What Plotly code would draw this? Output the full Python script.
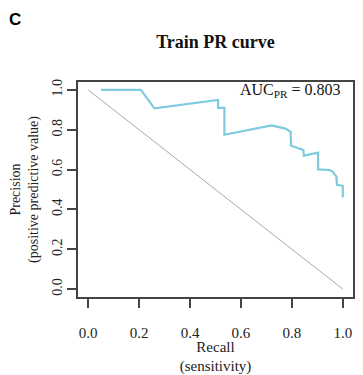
import plotly.graph_objects as go

recall = [0.05, 0.207, 0.26, 0.51, 0.51, 0.535, 0.535, 0.72, 0.775, 0.795, 0.797,
          0.845, 0.847, 0.903, 0.903, 0.947, 0.96, 0.975, 0.977, 1.0, 1.0]
precision = [1.0, 1.0, 0.908, 0.95, 0.91, 0.91, 0.775, 0.822, 0.806, 0.79, 0.72,
             0.698, 0.67, 0.685, 0.601, 0.598, 0.59, 0.565, 0.523, 0.518, 0.46]
diag_x = [0.0, 1.0]
diag_y = [1.0, 0.0]
tick_vals = [0.0, 0.2, 0.4, 0.6, 0.8, 1.0]
tick_text = ["0.0", "0.2", "0.4", "0.6", "0.8", "1.0"]
auc_value = 0.803

serif = "Liberation Serif, Times New Roman, serif"

# page body has an 8px margin: figure is 355x367, placed at (8, 8)
W, H = 355, 367
ML, MR, MT, MB = 70, 10, 74, 78
PW = W - ML - MR
PH = H - MT - MB

fig = go.Figure()
fig.add_trace(go.Scatter(x=diag_x, y=diag_y, mode="lines",
                         line=dict(color="#a9a9a9", width=1), hoverinfo="skip"))
fig.add_trace(go.Scatter(x=recall, y=precision, mode="lines",
                         line=dict(color="#7ecbe0", width=2.2), hoverinfo="skip"))

axis_common = dict(
    range=[-0.04, 1.04], tickvals=tick_vals, ticktext=tick_text,
    showgrid=False, zeroline=False, showline=True, linecolor="#444444",
    linewidth=1.5, mirror=True, ticks="outside", ticklen=9, tickwidth=1.5,
    tickcolor="#444444", automargin=False,
)

fig.update_layout(
    width=W, height=H,
    margin=dict(l=ML, r=MR, t=MT, b=MB),
    paper_bgcolor="white", plot_bgcolor="white",
    showlegend=False,
    xaxis=dict(**axis_common,
               tickfont=dict(family=serif, size=15, color="#222222"),
               ticklabelstandoff=12,
               title=dict(text="Recall<br>(sensitivity)", standoff=0,
                          font=dict(family=serif, size=15, color="#222222"))),
    yaxis=dict(**axis_common, tickangle=-90,
               tickfont=dict(family=serif, size=14, color="#222222"),
               title=dict(text="Precision<br>(positive predictive value)", standoff=9,
                          font=dict(family=serif, size=14, color="#222222"))),
    title=dict(text="<b>Train PR curve</b>", x=(ML + PW / 2) / W, xanchor="center",
               y=1 - 34 / H, yanchor="middle",
               font=dict(family=serif, size=18, color="#111111")),
)

fig.add_annotation(x=1.0, y=0.995, xref="x", yref="y", xanchor="right", yanchor="middle",
                   text=f"AUC<sub>PR</sub> = {auc_value:.3f}", showarrow=False,
                   font=dict(family=serif, size=16, color="#111111"))
fig.add_annotation(x=(0 - ML) / PW, y=(PH + MT - 12) / PH, xref="paper", yref="paper",
                   xanchor="left", yanchor="middle", text="<b>C</b>", showarrow=False,
                   borderpad=0,
                   font=dict(family="Liberation Sans, Arial, sans-serif", size=17, color="#000000"))

fig.write_html("out.html")
